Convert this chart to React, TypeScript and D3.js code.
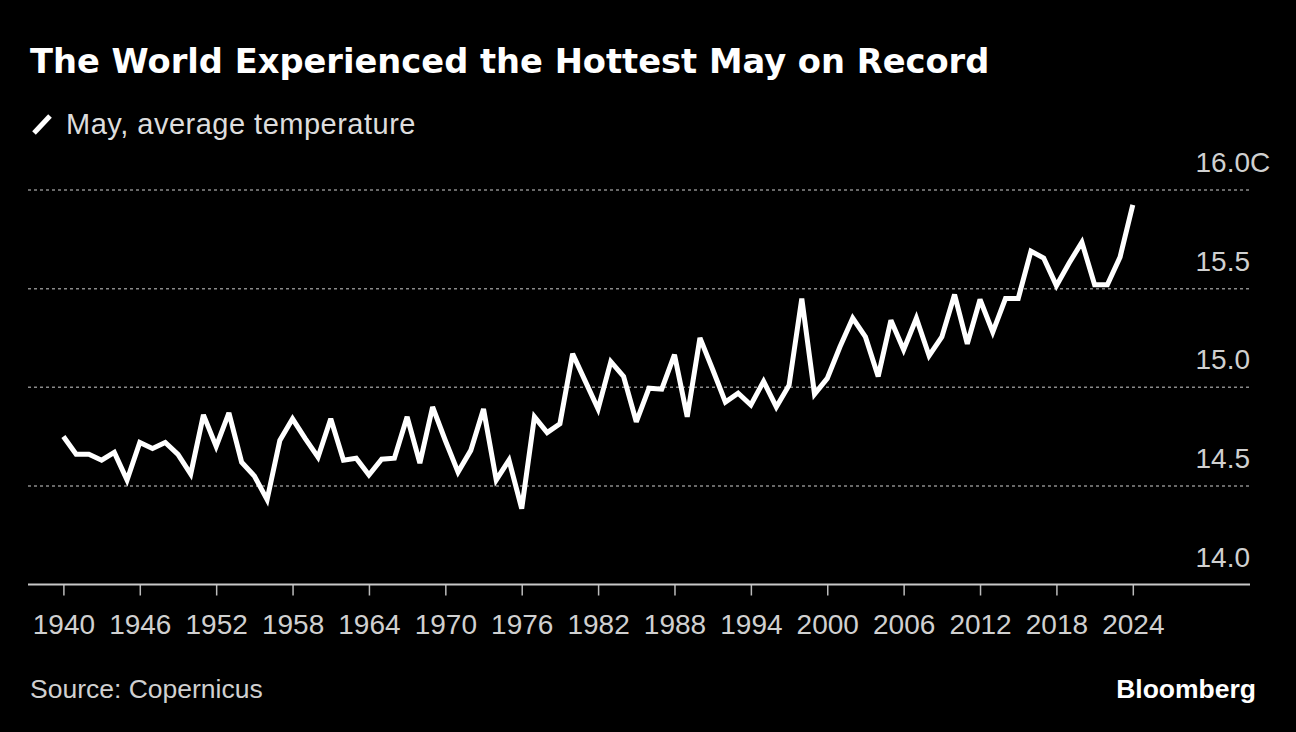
import * as d3 from "d3";
import { useEffect, useRef } from "react";

const years: number[] = d3.range(1940, 2025);

// May average temperature, °C
const mayTemps: number[] = [
  14.75, 14.66, 14.66, 14.63, 14.67, 14.53, 14.72, 14.69, 14.72, 14.66,
  14.56, 14.86, 14.70, 14.87, 14.62, 14.55, 14.43, 14.73, 14.84, 14.74,
  14.645, 14.84, 14.63, 14.64, 14.555, 14.635, 14.64, 14.85, 14.615, 14.90,
  14.73, 14.57, 14.68, 14.89, 14.53, 14.63, 14.385, 14.85, 14.77, 14.815,
  15.17, 15.03, 14.89, 15.13, 15.055, 14.825, 14.995, 14.99, 15.165, 14.85,
  15.25, 15.09, 14.925, 14.97, 14.91, 15.03, 14.90, 15.01, 15.45, 14.965,
  15.045, 15.205, 15.35, 15.255, 15.055, 15.34, 15.19, 15.35, 15.16, 15.255,
  15.47, 15.22, 15.445, 15.28, 15.45, 15.45, 15.69, 15.655, 15.515, 15.63,
  15.735, 15.52, 15.52, 15.66, 15.925,
];

const xTicks: number[] = [1940, 1946, 1952, 1958, 1964, 1970, 1976, 1982, 1988, 1994, 2000, 2006, 2012, 2018, 2024];
const yTicks: number[] = [14.0, 14.5, 15.0, 15.5, 16.0];

const title = "The World Experienced the Hottest May on Record";
const legendLabel = "May, average temperature";
const source = "Source: Copernicus";

const W = 1296;
const H = 732;

export default function App() {
  const svgRef = useRef<SVGSVGElement | null>(null);

  useEffect(() => {
    document.body.style.margin = "0";
    if (!svgRef.current) return;
    const svg = d3.select(svgRef.current);
    svg.selectAll("*").remove();

    const plotLeft = 28;
    const plotRight = 1250;

    const x = d3.scaleLinear().domain([1940, 2024]).range([63.4, 1132.8]);
    const y = d3.scaleLinear().domain([14, 16]).range([584.5, 190]);

    svg.append("rect").attr("width", W).attr("height", H).attr("fill", "#000");

    // title
    svg.append("text")
      .attr("x", 30).attr("y", 73)
      .attr("fill", "#fff")
      .style("font-family", "DejaVu Sans")
      .style("font-weight", "bold")
      .style("font-size", "33.7px")
      .text(title);

    // legend
    svg.append("line")
      .attr("x1", 34).attr("y1", 133).attr("x2", 50).attr("y2", 116)
      .attr("stroke", "#fff").attr("stroke-width", 5);
    svg.append("text")
      .attr("x", 66).attr("y", 134)
      .attr("fill", "#ddd")
      .style("font-family", "Liberation Sans")
      .style("font-size", "29px")
      .style("letter-spacing", "0.5px")
      .text(legendLabel);

    // gridlines
    const grid = svg.append("g");
    grid.selectAll("line")
      .data(yTicks.filter(t => t > 14))
      .enter().append("line")
      .attr("x1", plotLeft).attr("x2", plotRight)
      .attr("y1", d => y(d)).attr("y2", d => y(d))
      .attr("stroke", "#8a8a8a")
      .attr("stroke-width", 1.5)
      .attr("stroke-dasharray", "3,3");

    // y labels
    const yl = svg.append("g")
      .style("font-family", "Liberation Sans")
      .style("font-size", "28px")
      .attr("fill", "#d0d0d0");
    yl.selectAll("text")
      .data(yTicks)
      .enter().append("text")
      .attr("x", plotRight)
      .attr("y", d => y(d) - 18)
      .attr("text-anchor", "end")
      .text(d => d.toFixed(1));
    yl.append("text")
      .attr("x", plotRight)
      .attr("y", y(16) - 18)
      .text("C");

    // x axis
    const xAxis = svg.append("g")
      .attr("transform", `translate(0,${y(14)})`)
      .call(d3.axisBottom(x).tickValues(xTicks).tickSize(11).tickFormat(d3.format("d")));
    xAxis.select(".domain").remove();
    xAxis.selectAll(".tick line").attr("stroke", "#bbb").attr("stroke-width", 1.5);
    xAxis.selectAll(".tick text")
      .attr("y", 49).attr("dy", 0)
      .attr("fill", "#d0d0d0")
      .style("font-family", "Liberation Sans")
      .style("font-size", "28px");
    svg.append("line")
      .attr("x1", plotLeft).attr("x2", plotRight)
      .attr("y1", y(14)).attr("y2", y(14))
      .attr("stroke", "#c8c8c8").attr("stroke-width", 2);

    // line
    const pts = years.map((yr, i) => ({ year: yr, value: mayTemps[i] }));
    const line = d3.line<{ year: number; value: number }>()
      .x(d => x(d.year))
      .y(d => y(d.value));
    svg.append("path")
      .datum(pts)
      .attr("fill", "none")
      .attr("stroke", "#fff")
      .attr("stroke-width", 5)
      .attr("stroke-linejoin", "miter")
      .attr("stroke-miterlimit", 3)
      .attr("d", line);

    // footer
    svg.append("text")
      .attr("x", 30).attr("y", 698)
      .attr("fill", "#d0d0d0")
      .style("font-family", "Liberation Sans")
      .style("font-size", "26.5px")
      .text(source);
    svg.append("text")
      .attr("x", 1256).attr("y", 698)
      .attr("text-anchor", "end")
      .attr("fill", "#fff")
      .style("font-family", "Liberation Sans")
      .style("font-weight", "bold")
      .style("font-size", "26.5px")
      .text("Bloomberg");
  }, []);

  return (
    <div style={{ background: "#000", width: W, height: H }}>
      <svg ref={svgRef} width={W} height={H} style={{ display: "block" }}></svg>
    </div>
  );
}
